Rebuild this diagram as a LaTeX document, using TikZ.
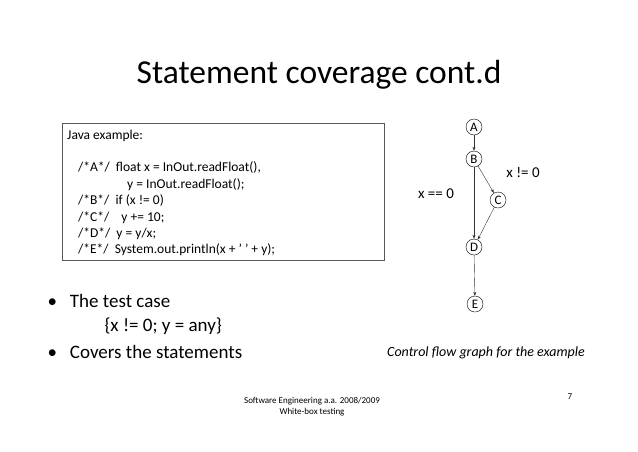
\documentclass[tikz,border=0pt]{standalone}
\usepackage{fontspec}
\setmainfont{Carlito}
\usetikzlibrary{positioning,arrows.meta}
\begin{document}
\begin{tikzpicture}[x=1pt,y=-1pt,
  vtx/.style={circle,draw,inner sep=0pt,minimum size=16pt,font=\fontsize{13}{14}\selectfont},
  edge/.style={-{Stealth[length=4pt,width=3pt]},gray!40!black}]
\useasboundingbox (0,0) rectangle (638,451);
%title
\node (title) at (319,75) {\fontsize{33.5}{38}\selectfont Statement coverage cont.d};
%code box
\draw[gray!70!black] (62,123) rectangle (384,260);
\node[anchor=north west,align=left,font=\fontsize{13.5}{16.4}\selectfont,inner sep=0pt] (code) at (67,130)
 {Java example:\\[16pt]
 \hspace*{11pt}/*A*/\ \ float x = InOut.readFloat(),\\
 \hspace*{60pt}y = InOut.readFloat();\\
 \hspace*{11pt}/*B*/\ \ if (x != 0)\\
 \hspace*{11pt}/*C*/\ \ \ \ y += 10;\\
 \hspace*{11pt}/*D*/\ \ y = y/x;\\
 \hspace*{11pt}/*E*/\ \ System.out.println(x + ' ' + y);};
%bullets
\node[anchor=west,font=\fontsize{19}{22}\selectfont] (b1) at (44,301) {•\hspace{13pt}The test case};
\node[anchor=west,font=\fontsize{19}{22}\selectfont] (tc) at (101,326) {\{x != 0; y = any\}};
\node[anchor=west,font=\fontsize{19}{22}\selectfont] (b2) at (44,352) {•\hspace{13pt}Covers the statements};
%graph
\node[vtx] (A) at (474,127) {A};
\node[vtx] (B) at (474,159) {B};
\node[vtx] (C) at (498,200) {C};
\node[vtx] (D) at (474,247) {D};
\node[vtx] (E) at (475,304) {E};
\draw[edge] (A) -- (B);
\draw[edge] (B) -- (C);
\draw[edge] (B) -- (D);
\draw[edge] (C) -- (D);
\draw[edge] (D) -- (E);
\node[font=\fontsize{15}{17}\selectfont] (neq) at (523,172) {x != 0};
\node[font=\fontsize{15}{17}\selectfont] (eq) at (436,194) {x == 0};
\node[font=\itshape\fontsize{14}{16}\selectfont] (cap) at (486,353) {Control flow graph for the example};
%footer
\node[align=center,font=\fontsize{9}{11}\selectfont] (foot) at (312,407) {Software Engineering a.a. 2008/2009\\White-box testing};
\node[font=\fontsize{9}{11}\selectfont] (pg) at (570,397) {7};
\end{tikzpicture}
\end{document}
